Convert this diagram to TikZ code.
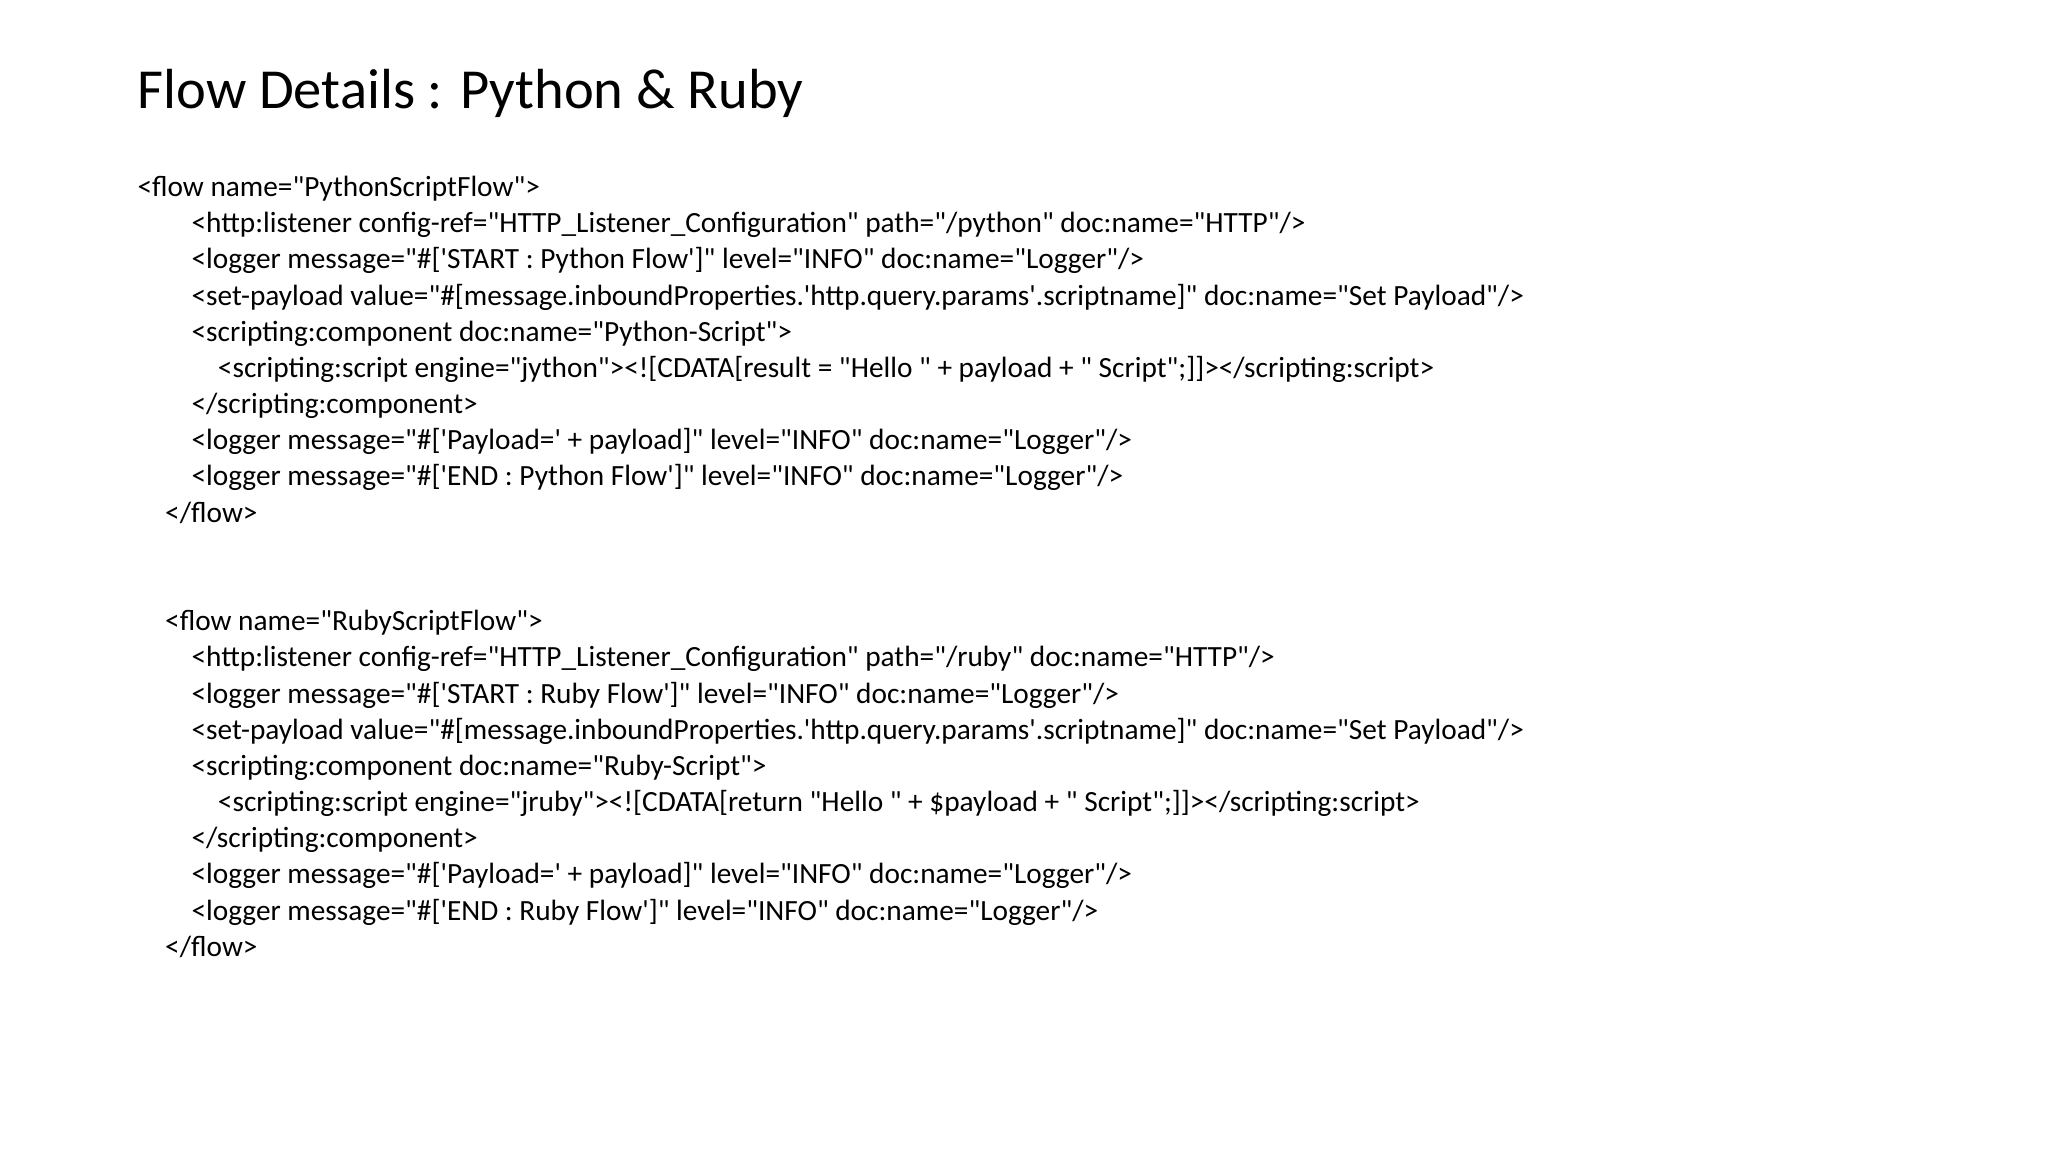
\documentclass[tikz,border=0pt]{standalone}
\usepackage{fontspec}
\newfontfamily\calfont{Carlito}
\begin{document}
\begin{tikzpicture}[x=1bp,y=-1bp,
  codeline/.style={anchor=base west,inner sep=0pt,font=\calfont\fontsize{22.3}{26}\selectfont},
  titletext/.style={anchor=base west,inner sep=0pt,font=\calfont\fontsize{43}{50}\selectfont}]
\useasboundingbox (0,0) rectangle (1552,873);
\node[titletext] (title) at (104,82) {Flow Details : Python \& Ruby};
\def\dy{27.4}
\node[codeline] (p1) at (104,149) {<flow name="PythonScriptFlow">};
\node[codeline] (p2) at (145,176.4) {<http:listener config-ref="HTTP\_Listener\_Configuration" path="/python" doc:name="HTTP"/>};
\node[codeline] (p3) at (145,203.8) {<logger message="\#['START : Python Flow']" level="INFO" doc:name="Logger"/>};
\node[codeline] (p4) at (145,231.2) {<set-payload value="\#[message.inboundProperties.'http.query.params'.scriptname]" doc:name="Set Payload"/>};
\node[codeline] (p5) at (145,258.6) {<scripting:component doc:name="Python-Script">};
\node[codeline] (p6) at (165,286) {<scripting:script engine="jython"><![CDATA[result = "Hello " + payload + " Script";]]></scripting:script>};
\node[codeline] (p7) at (145,313.4) {</scripting:component>};
\node[codeline] (p8) at (145,340.8) {<logger message="\#['Payload=' + payload]" level="INFO" doc:name="Logger"/>};
\node[codeline] (p9) at (145,368.2) {<logger message="\#['END : Python Flow']" level="INFO" doc:name="Logger"/>};
\node[codeline] (p10) at (125,395.6) {</flow>};
\node[codeline] (r1) at (125,478) {<flow name="RubyScriptFlow">};
\node[codeline] (r2) at (145,505.4) {<http:listener config-ref="HTTP\_Listener\_Configuration" path="/ruby" doc:name="HTTP"/>};
\node[codeline] (r3) at (145,532.8) {<logger message="\#['START : Ruby Flow']" level="INFO" doc:name="Logger"/>};
\node[codeline] (r4) at (145,560.2) {<set-payload value="\#[message.inboundProperties.'http.query.params'.scriptname]" doc:name="Set Payload"/>};
\node[codeline] (r5) at (145,587.6) {<scripting:component doc:name="Ruby-Script">};
\node[codeline] (r6) at (165,615) {<scripting:script engine="jruby"><![CDATA[return "Hello " + \$payload + " Script";]]></scripting:script>};
\node[codeline] (r7) at (145,642.4) {</scripting:component>};
\node[codeline] (r8) at (145,669.8) {<logger message="\#['Payload=' + payload]" level="INFO" doc:name="Logger"/>};
\node[codeline] (r9) at (145,697.2) {<logger message="\#['END : Ruby Flow']" level="INFO" doc:name="Logger"/>};
\node[codeline] (r10) at (125,724.6) {</flow>};
\end{tikzpicture}
\end{document}
